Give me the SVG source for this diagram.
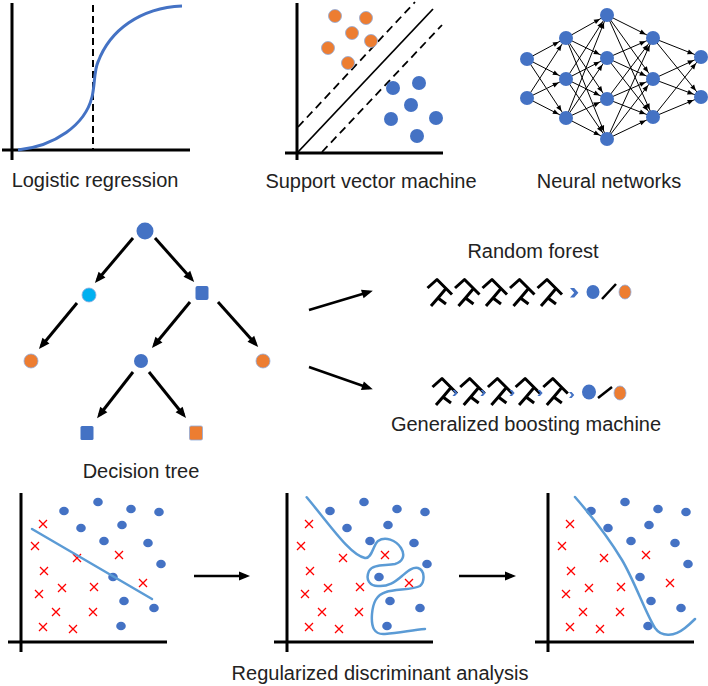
<svg xmlns="http://www.w3.org/2000/svg" xmlns:xlink="http://www.w3.org/1999/xlink" width="708" height="686" viewBox="0 0 708 686">
<defs>
<style>
.lbl{font-family:"Liberation Sans",Arial,sans-serif;font-size:20px;fill:#222;text-anchor:middle}
.ax{stroke:#000;stroke-width:3;fill:none}
.b{fill:#4472C4}
.o{fill:#ED7D31;stroke:#8EA9DB;stroke-width:0.8}
.c{fill:#00B0F0;stroke:#8EA9DB;stroke-width:0.8}
.nn line{stroke:#000;stroke-width:1;marker-end:url(#nh)}
.dt line{stroke:#000;stroke-width:3;marker-end:url(#ah)}
.mid line{stroke:#000;stroke-width:2.5;marker-end:url(#ah)}
.x{stroke:#F00;stroke-width:1.3;fill:none}
.tree{stroke:#000;stroke-width:3;fill:none;stroke-linejoin:round}
.bl{stroke:#5B9BD5;stroke-width:2.5;fill:none;stroke-linecap:round}
</style>
<marker id="nh" markerUnits="userSpaceOnUse" markerWidth="20" markerHeight="6" refX="14" refY="2.5" orient="auto" overflow="visible"><path d="M0,0 L6,2.5 L0,5 z" fill="#000"/></marker>
<marker id="ah" markerUnits="userSpaceOnUse" markerWidth="13" markerHeight="10" refX="7" refY="4.5" orient="auto" overflow="visible"><path d="M0,0 L11,4.5 L0,9 z" fill="#000"/></marker>
<path id="x" d="M-4,-4 L4,4 M4,-4 L-4,4" class="x"/>
<ellipse id="d" rx="4.8" ry="4.3" class="b"/>
<path id="tr" d="M0.5,10 L10,1.5 L25,16.5 M19,10.5 L11,20 L4,28 M11,20 L19,26" class="tree"/>
<path id="chev" d="M0,0 L3.5,0 L7,4 L3.5,8 L0,8 L3.5,4 z" fill="#4472C4"/>
<g id="panel">
<path class="ax" d="M21,493 V652 M8,642 H167"/>
<use xlink:href="#d" x="64" y="511"/><use xlink:href="#d" x="98" y="502"/><use xlink:href="#d" x="131" y="509"/><use xlink:href="#d" x="159" y="512"/>
<use xlink:href="#d" x="81" y="528"/><use xlink:href="#d" x="122" y="525"/><use xlink:href="#d" x="104" y="541"/><use xlink:href="#d" x="148" y="543"/>
<use xlink:href="#d" x="161" y="564"/><use xlink:href="#d" x="113" y="577"/><use xlink:href="#d" x="124" y="601"/><use xlink:href="#d" x="154" y="608"/><use xlink:href="#d" x="121" y="626"/>
<use xlink:href="#x" x="43" y="524"/><use xlink:href="#x" x="35" y="546"/><use xlink:href="#x" x="77" y="558"/><use xlink:href="#x" x="119" y="555"/>
<use xlink:href="#x" x="44" y="571"/><use xlink:href="#x" x="62" y="588"/><use xlink:href="#x" x="94" y="587"/><use xlink:href="#x" x="39" y="594"/>
<use xlink:href="#x" x="143" y="583"/><use xlink:href="#x" x="56" y="612"/><use xlink:href="#x" x="93" y="612"/><use xlink:href="#x" x="43" y="627"/><use xlink:href="#x" x="73" y="629"/>
</g>
</defs>
<rect width="708" height="686" fill="#fff"/>

<g id="logistic">
<path class="ax" d="M12,3 V160 M2,150 H190"/>
<line x1="93" y1="5" x2="93" y2="150" stroke="#000" stroke-width="2" stroke-dasharray="7 4"/>
<path d="M18,150 C55,146 85,125 92,97 C95,85 94,70 98,62 C110,30 140,8 182,6" fill="none" stroke="#4472C4" stroke-width="3"/>
<text class="lbl" x="95" y="187">Logistic regression</text>
</g>

<g id="svm">
<path class="ax" d="M297,3 V160 M285,153 H443"/>
<line x1="298" y1="152" x2="433" y2="9" stroke="#000" stroke-width="1.8"/>
<line x1="298" y1="127" x2="415" y2="2" stroke="#000" stroke-width="1.8" stroke-dasharray="8 5"/>
<line x1="322" y1="152" x2="442" y2="25" stroke="#000" stroke-width="1.8" stroke-dasharray="8 5"/>
<circle class="o" cx="335" cy="16" r="6.5"/><circle class="o" cx="366" cy="18" r="6.5"/><circle class="o" cx="352" cy="33" r="6.5"/>
<circle class="o" cx="371" cy="41" r="6.5"/><circle class="o" cx="328" cy="48" r="6.5"/><circle class="o" cx="348" cy="63" r="6.5"/>
<circle class="b" cx="393" cy="88" r="7"/><circle class="b" cx="419" cy="83" r="7"/><circle class="b" cx="411" cy="105" r="7"/>
<circle class="b" cx="391" cy="119" r="7"/><circle class="b" cx="436" cy="118" r="7"/><circle class="b" cx="417" cy="136" r="7"/>
<text class="lbl" x="371" y="188">Support vector machine</text>
</g>

<g id="neural-network">
<g class="nn">
<line x1="527" y1="59" x2="566" y2="38"/><line x1="527" y1="59" x2="566" y2="79"/><line x1="527" y1="59" x2="566" y2="118"/>
<line x1="527" y1="98" x2="566" y2="38"/><line x1="527" y1="98" x2="566" y2="79"/><line x1="527" y1="98" x2="566" y2="118"/>
<line x1="566" y1="38" x2="607" y2="15"/><line x1="566" y1="38" x2="607" y2="58"/><line x1="566" y1="38" x2="607" y2="99"/><line x1="566" y1="38" x2="607" y2="139"/>
<line x1="566" y1="79" x2="607" y2="15"/><line x1="566" y1="79" x2="607" y2="58"/><line x1="566" y1="79" x2="607" y2="99"/><line x1="566" y1="79" x2="607" y2="139"/>
<line x1="566" y1="118" x2="607" y2="15"/><line x1="566" y1="118" x2="607" y2="58"/><line x1="566" y1="118" x2="607" y2="99"/><line x1="566" y1="118" x2="607" y2="139"/>
<line x1="607" y1="15" x2="653" y2="38"/><line x1="607" y1="15" x2="653" y2="79"/><line x1="607" y1="15" x2="653" y2="117"/>
<line x1="607" y1="58" x2="653" y2="38"/><line x1="607" y1="58" x2="653" y2="79"/><line x1="607" y1="58" x2="653" y2="117"/>
<line x1="607" y1="99" x2="653" y2="38"/><line x1="607" y1="99" x2="653" y2="79"/><line x1="607" y1="99" x2="653" y2="117"/>
<line x1="607" y1="139" x2="653" y2="38"/><line x1="607" y1="139" x2="653" y2="79"/><line x1="607" y1="139" x2="653" y2="117"/>
<line x1="653" y1="38" x2="701" y2="57"/><line x1="653" y1="38" x2="701" y2="97"/>
<line x1="653" y1="79" x2="701" y2="57"/><line x1="653" y1="79" x2="701" y2="97"/>
<line x1="653" y1="117" x2="701" y2="57"/><line x1="653" y1="117" x2="701" y2="97"/>
</g>
<circle class="b" cx="527" cy="59" r="7"/><circle class="b" cx="527" cy="98" r="7"/>
<circle class="b" cx="566" cy="38" r="7"/><circle class="b" cx="566" cy="79" r="7"/><circle class="b" cx="566" cy="118" r="7"/>
<circle class="b" cx="607" cy="15" r="7"/><circle class="b" cx="607" cy="58" r="7"/><circle class="b" cx="607" cy="99" r="7"/><circle class="b" cx="607" cy="139" r="7"/>
<circle class="b" cx="653" cy="38" r="7"/><circle class="b" cx="653" cy="79" r="7"/><circle class="b" cx="653" cy="117" r="7"/>
<circle class="b" cx="701" cy="57" r="7"/><circle class="b" cx="701" cy="97" r="7"/>
<text class="lbl" x="609" y="188">Neural networks</text>
</g>

<g id="decision-tree">
<g class="dt">
<line x1="133" y1="238" x2="97.5" y2="280"/>
<line x1="155" y1="238" x2="191.5" y2="279"/>
<line x1="77" y1="303" x2="41.5" y2="346"/>
<line x1="190" y1="302" x2="154.5" y2="345"/>
<line x1="218" y1="302" x2="255.5" y2="344"/>
<line x1="133" y1="372" x2="99.5" y2="415"/>
<line x1="149" y1="372" x2="183.5" y2="415"/>
</g>
<circle class="b" cx="145" cy="231" r="8.5"/>
<circle class="c" cx="89" cy="295" r="7"/>
<rect class="b" x="195.5" y="286" width="13" height="14" rx="2"/>
<circle class="o" cx="31" cy="361" r="7"/>
<circle class="b" cx="141" cy="361" r="7"/>
<circle class="o" cx="263" cy="361" r="7"/>
<rect class="b" x="80.5" y="426" width="13" height="14" rx="1.5"/>
<rect class="o" x="189.5" y="426" width="13" height="14" rx="1.5"/>
<text class="lbl" x="141" y="478">Decision tree</text>
</g>

<g id="connectors" class="mid">
<line x1="309" y1="310" x2="369" y2="292"/>
<line x1="309" y1="367" x2="369" y2="388"/>
<line x1="194" y1="576" x2="246" y2="576"/>
<line x1="459" y1="576" x2="512" y2="576"/>
</g>

<g id="random-forest">
<text class="lbl" x="533" y="258">Random forest</text>
<use xlink:href="#tr" x="427" y="278"/><use xlink:href="#tr" x="454.5" y="278"/><use xlink:href="#tr" x="482" y="278"/><use xlink:href="#tr" x="509.5" y="278"/><use xlink:href="#tr" x="537" y="278"/>
<use xlink:href="#chev" transform="translate(570,288) scale(1.2)"/>
<ellipse class="b" cx="593" cy="292" rx="6.5" ry="7"/>
<line x1="602" y1="299" x2="616" y2="284" stroke="#000" stroke-width="2.5"/>
<ellipse class="o" cx="625" cy="292" rx="6" ry="7"/>
</g>

<g id="boosting">
<use xlink:href="#tr" x="432" y="377"/><use xlink:href="#tr" x="459.7" y="377"/><use xlink:href="#tr" x="487.4" y="377"/><use xlink:href="#tr" x="515.1" y="377"/><use xlink:href="#tr" x="542.8" y="377"/>
<use xlink:href="#chev" transform="translate(452.4,390) scale(0.75)"/>
<use xlink:href="#chev" transform="translate(480.4,390) scale(0.75)"/>
<use xlink:href="#chev" transform="translate(509.4,390) scale(0.75)"/>
<use xlink:href="#chev" transform="translate(537.4,390) scale(0.75)"/>
<use xlink:href="#chev" transform="translate(569,392) scale(0.75)"/>
<ellipse class="b" cx="589" cy="392" rx="7" ry="7.5"/>
<line x1="598" y1="398" x2="612" y2="387" stroke="#000" stroke-width="2.5"/>
<ellipse class="o" cx="620" cy="393" rx="6" ry="7"/>
<text class="lbl" x="526" y="431">Generalized boosting machine</text>
</g>

<g id="rda-panel-1">
<use xlink:href="#panel"/>
<line class="bl" x1="32" y1="529" x2="152" y2="599"/>
</g>
<g id="rda-panel-2">
<use xlink:href="#panel" x="266"/>
<path class="bl" d="M306.7,497.3 C330,525 350,555 365,558 C372,559 373,545 378,541 C385,536 396,540 401,548 C406,556 402,562 395,564 C385,566 373,564 369,571 C365,580 370,586 378,586 C388,587 395,582 402,576 C408,571 412,567 418,568 C425,570 425,582 420,586 C413,590 395,589 386,592 C376,595 373,603 372,614 C371,627 374,635 385,634 C400,633 412,630 425,629"/>
</g>
<g id="rda-panel-3">
<use xlink:href="#panel" x="527"/>
<path class="bl" d="M575,497 C595,520 610,540 622,560 C635,582 645,612 655,628 C662,638 675,636 685,628 C690,624 693,621 695,619"/>
</g>
<text class="lbl" x="380" y="680">Regularized discriminant analysis</text>
</svg>
